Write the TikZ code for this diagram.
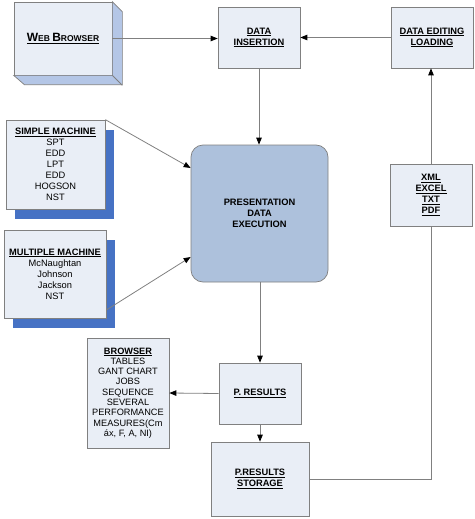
\documentclass[tikz,border=0pt]{standalone}
\usepackage{fontspec}
\setmainfont{Liberation Sans}
\usetikzlibrary{arrows.meta,calc,shadows}
\definecolor{paleCS}{RGB}{233,238,246}
\definecolor{sideCS}{RGB}{180,198,230}
\definecolor{deepCS}{RGB}{70,114,196}
\definecolor{presCS}{RGB}{173,193,220}
\definecolor{grisCS}{RGB}{128,128,128}
\colorlet{Slate}{grisCS}
\newcommand{\bigc}[1]{{\fontsize{12}{12}\selectfont #1}}

\begin{document}
\begin{tikzpicture}[x=1pt,y=-1pt,
    box/.style={draw=Slate,line width=0.7pt,fill=paleCS,align=center,inner sep=0pt,
      font=\fontsize{9.3}{11}\selectfont\bfseries},
    listbox/.style={box,drop shadow={shadow xshift=9pt,shadow yshift=-10pt,fill=deepCS,opacity=1}},
    link/.style={draw=Slate,line width=0.8pt},
    arr/.style={link,-{Triangle[length=7pt,width=5.5pt,color=black]}}]
  \useasboundingbox (0,0) rectangle (474,519);

  \node[box,minimum width=98,minimum height=73,font=\fontsize{8.5}{11}\selectfont\bfseries] (web) at (63,38.5)
    {\underline{\bigc{W}EB \bigc{B}ROWSER}};
  \filldraw[Slate,fill=sideCS,line width=0.7pt] (web.north east) -- ++(10,10) -- ++(0,73) -- ++(-98,0)
    -- (web.south west) -- (web.south east) -- cycle;
  \draw[link] (web.south east) -- ++(10,10);

  \node[box,minimum width=82,minimum height=61] (ins) at (259,37.5) {\underline{DATA}\\\underline{INSERTION}};
  \node[box,minimum width=82,minimum height=61] (edit) at (432,37.5) {\underline{DATA EDITING}\\\underline{LOADING}};
  \node[box,fill=presCS,rounded corners=12pt,minimum width=137,minimum height=137] (pres) at (259.5,213.5)
    {PRESENTATION\\DATA\\EXECUTION};

  \node[listbox,minimum width=99,minimum height=89] (simple) at (55.5,164.5)
    {\underline{SIMPLE MACHINE}\\\mdseries SPT\\\mdseries EDD\\\mdseries LPT\\\mdseries EDD\\\mdseries HOGSON\\\mdseries NST};
  \node[listbox,minimum width=102,minimum height=88] (multi) at (55,274)
    {\underline{MULTIPLE MACHINE}\\\mdseries McNaughtan\\\mdseries Johnson\\\mdseries Jackson\\\mdseries NST};

  \node[box,minimum width=82,minimum height=61] (res) at (260,393.5) {\underline{P. RESULTS}};
  \node[box,minimum width=98,minimum height=74] (store) at (260,479) {\underline{P.RESULTS}\\\underline{STORAGE}};
  \node[box,minimum width=82,minimum height=62] (xml) at (431,195)
    {\underline{XML}\\\underline{EXCEL}\\\underline{TXT}\\\underline{PDF}};
  \node[box,minimum width=82,minimum height=110,font=\fontsize{9.2}{10.3}\selectfont] (brw) at (128,393)
    {\textbf{\underline{BROWSER}}\\TABLES\\GANT CHART\\JOBS\\SEQUENCE\\SEVERAL\\PERFORMANCE\\MEASURES(Cm\\áx, F, A, NI)};

  \draw[arr] (web.east) -- (web.east -| ins.west);
  \draw[arr] (edit.west) -- (ins.east);
  \draw[arr] (ins.south) -- (ins.south |- pres.north);
  \draw[arr] (simple.north east) -- ([yshift=45.5pt]pres.west);
  \draw[arr] ([yshift=-36pt]multi.east) -- ([yshift=-43.5pt]pres.west);
  \draw[arr] (pres.south -| res.north) -- (res.north);
  \draw[arr] (res.west) -- (brw.east);
  \draw[arr] (res.south) -- (store.north);
  \draw[link] (store.east) -| (xml.south);
  \draw[arr] (xml.north) -- (xml.north |- edit.south);
\end{tikzpicture}
\end{document}
